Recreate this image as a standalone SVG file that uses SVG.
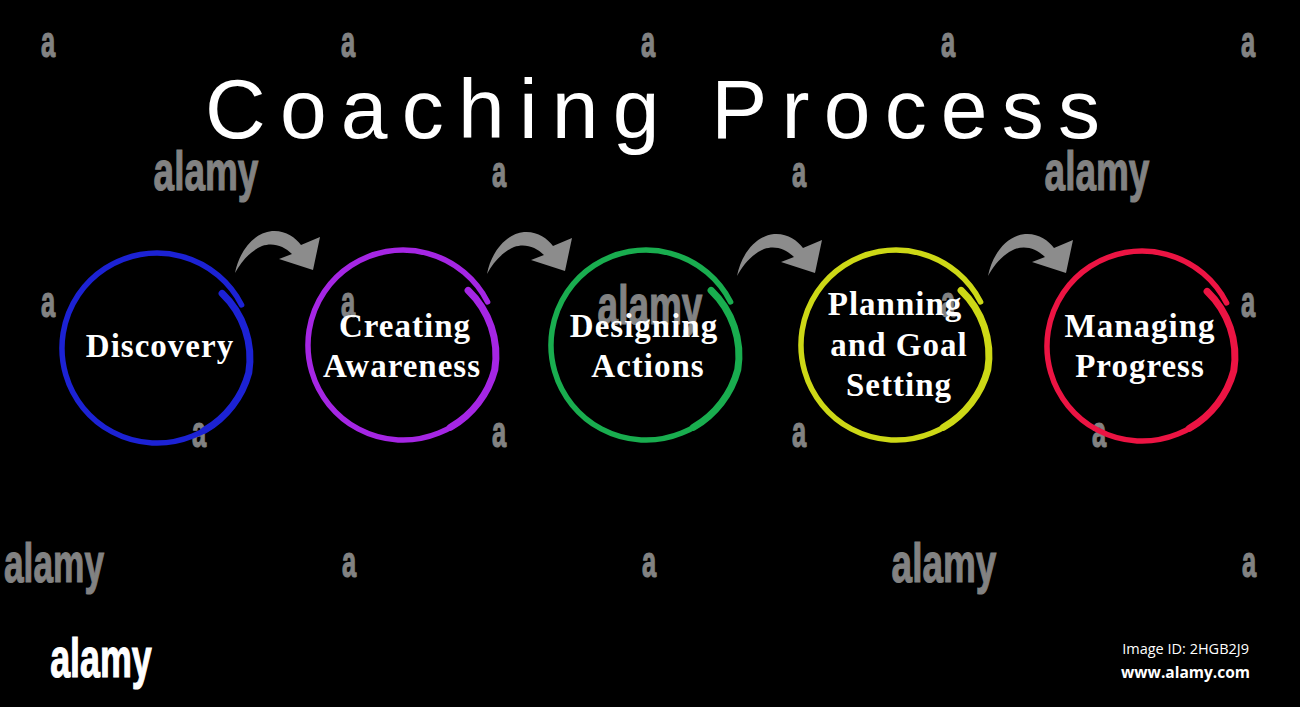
<svg xmlns="http://www.w3.org/2000/svg" xmlns:xlink="http://www.w3.org/1999/xlink" width="1300" height="707" viewBox="0 0 1300 707">
<style>
.title{font-family:"Liberation Sans",Arial,sans-serif;font-size:84px;fill:#ffffff}
.lbl{font-family:"Liberation Serif","Times New Roman",serif;font-weight:bold;font-size:33px;fill:#ffffff;letter-spacing:1px;text-anchor:middle}
.wa{font-family:"Liberation Sans",Arial,sans-serif;font-weight:bold;font-size:44px;fill:#828282;stroke:#828282;stroke-width:1.2px;text-anchor:middle}
.wm{font-family:"Liberation Sans",Arial,sans-serif;font-weight:bold;font-size:56px;fill:#828282;stroke:#828282;stroke-width:1.2px;text-anchor:middle}
.wmw{fill:#ffffff;stroke:#ffffff}
.id{font-family:"Open Sans","Noto Sans",sans-serif;font-size:14.5px;fill:#ffffff;text-anchor:end}
.url{font-family:"Open Sans","Noto Sans",sans-serif;font-weight:bold;font-size:15.5px;fill:#ffffff;text-anchor:end}
.ring{fill:none;stroke:currentColor;stroke-linecap:round}
.arrow{fill:#8c8c8c}
</style>
<defs>
<g id="ring">
<path class="ring" stroke-width="5.5" d="M84.6,-43.1 A95,95 0 1 0 67.2,67.2"/>
<path class="ring" stroke-width="7" d="M47.5,82.3 A95,95 0 0 0 91.8,24.6 A90,90 0 0 0 65.1,-54.6"/>
</g>
<path id="arr" class="arrow" d="M235,273 C239,252 253,233 272,231 C285,230 295,237 301,245 L320,237 L313,270 L279,259 L292,254 C284,246 273,242 262,246 C250,251 241,262 235,273 Z"/>
</defs>
<rect width="1300" height="707" fill="#000000"/>

<g id="watermarks">
<text class="wa" transform="translate(48,57) scale(0.58,1)">a</text>
<text class="wa" transform="translate(348,57) scale(0.58,1)">a</text>
<text class="wa" transform="translate(648,57) scale(0.58,1)">a</text>
<text class="wa" transform="translate(948,57) scale(0.58,1)">a</text>
<text class="wa" transform="translate(1248,57) scale(0.58,1)">a</text>
<text class="wm" transform="translate(206,190) scale(0.66,1)">alamy</text>
<text class="wa" transform="translate(499,187) scale(0.58,1)">a</text>
<text class="wa" transform="translate(799,187) scale(0.58,1)">a</text>
<text class="wm" transform="translate(1097,190) scale(0.66,1)">alamy</text>
<text class="wa" transform="translate(48,317) scale(0.58,1)">a</text>
<text class="wa" transform="translate(348,317) scale(0.58,1)">a</text>
<text class="wm" transform="translate(650,324) scale(0.66,1)">alamy</text>
<text class="wa" transform="translate(948,317) scale(0.58,1)">a</text>
<text class="wa" transform="translate(1248,317) scale(0.58,1)">a</text>
<text class="wa" transform="translate(199,447) scale(0.58,1)">a</text>
<text class="wa" transform="translate(499,447) scale(0.58,1)">a</text>
<text class="wa" transform="translate(799,447) scale(0.58,1)">a</text>
<text class="wa" transform="translate(1099,447) scale(0.58,1)">a</text>
<text class="wm" transform="translate(54,582) scale(0.63,1)">alamy</text>
<text class="wa" transform="translate(349,577) scale(0.58,1)">a</text>
<text class="wa" transform="translate(649,577) scale(0.58,1)">a</text>
<text class="wm" transform="translate(944,582) scale(0.66,1)">alamy</text>
<text class="wa" transform="translate(1249,577) scale(0.58,1)">a</text>
<text class="wm wmw" transform="translate(101,677) scale(0.64,1)">alamy</text>
<text class="id" x="1249" y="654">Image ID: 2HGB2J9</text>
<text class="url" x="1250" y="678">www.alamy.com</text>
</g>

<text id="title" class="title" x="205" y="138" textLength="895" lengthAdjust="spacing">Coaching Process</text>

<g id="connectors">
<use xlink:href="#arr" href="#arr"/>
<use xlink:href="#arr" href="#arr" transform="translate(252,1)"/>
<use xlink:href="#arr" href="#arr" transform="translate(502,3)"/>
<use xlink:href="#arr" href="#arr" transform="translate(753,3)"/>
</g>

<g id="node-discovery">
<use xlink:href="#ring" href="#ring" transform="translate(157,348)" color="#1c22d4"/>
<text class="lbl" x="160" y="357">Discovery</text>
</g>
<g id="node-creating-awareness">
<use xlink:href="#ring" href="#ring" transform="translate(403,345)" color="#a526e4"/>
<text class="lbl" x="405" y="337">Creating</text>
<text class="lbl" x="402" y="377">Awareness</text>
</g>
<g id="node-designing-actions">
<use xlink:href="#ring" href="#ring" transform="translate(646,345)" color="#19ad4f"/>
<text class="lbl" x="644" y="337">Designing</text>
<text class="lbl" x="648" y="377">Actions</text>
</g>
<g id="node-planning">
<use xlink:href="#ring" href="#ring" transform="translate(896,345)" color="#cdd816"/>
<text class="lbl" x="895" y="315">Planning</text>
<text class="lbl" x="899" y="356">and Goal</text>
<text class="lbl" x="899" y="396">Setting</text>
</g>
<g id="node-managing-progress">
<use xlink:href="#ring" href="#ring" transform="translate(1142,346)" color="#ec1443"/>
<text class="lbl" x="1140" y="337">Managing</text>
<text class="lbl" x="1140" y="377">Progress</text>
</g>
</svg>
